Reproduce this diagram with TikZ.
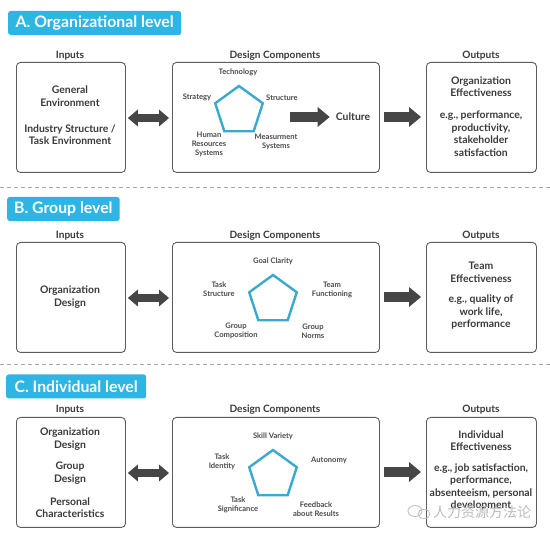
\documentclass[tikz,border=0pt]{standalone}
\usepackage{fontspec}
\setmainfont{Lato}
\newfontfamily\cjk{Noto Sans CJK SC}
\usetikzlibrary{arrows.meta,calc}
\definecolor{cy}{HTML}{2DB5E4}
\definecolor{pc}{HTML}{3AA9D0}
\definecolor{tx}{HTML}{3A3A3A}
\definecolor{lt}{HTML}{4A4A4A}
\definecolor{bd}{HTML}{5C5C5C}
\definecolor{ar}{HTML}{464646}
\definecolor{dl}{HTML}{AAAAAA}
\definecolor{wm}{HTML}{BBBBBB}
\begin{document}
\begin{tikzpicture}[x=1pt,y=-1pt,
  panel/.style={draw=bd, line width=0.9pt, rounded corners=4pt, anchor=north west, inner sep=0pt},
  ttl/.style={fill=cy, rounded corners=2.5pt, text=white, font=\fontsize{15.8}{18}\selectfont\bfseries, anchor=west, minimum height=24pt, inner xsep=7pt},
  hd/.style={text=tx, font=\fontsize{10.1}{11}\selectfont\bfseries, inner sep=0pt},
  btx/.style={text=tx, font=\fontsize{10.4}{12.5}\selectfont\bfseries, align=center, inner sep=0pt},
  plab/.style={text=lt, font=\fontsize{7.6}{9}\selectfont\bfseries, align=center, inner sep=0pt},
  pent/.style={draw=pc, line width=2.4pt, line join=miter},
  dbl/.style={draw=ar, line width=8pt, {Triangle[length=10pt,width=17pt,line width=0pt]}-{Triangle[length=10pt,width=17pt,line width=0pt]}},
  sgl/.style={draw=ar, line width=10pt, -{Triangle[length=12pt,width=20pt,line width=0pt]}},
  sep/.style={draw=dl, line width=0.8pt, dash pattern=on 4pt off 3pt}
]
\useasboundingbox (0,0) rectangle (550,534);
\fill[white] (0,0) rectangle (550,534);

% ---------------- A ----------------
\node[ttl, minimum width=173pt] (ta) at (8,23) {A. Organizational level};
\node[hd] (ah1) at (70,56) {Inputs};
\node[hd] (ah2) at (275,56) {Design Components};
\node[hd] (ah3) at (481,56) {Outputs};
\node[panel, minimum width=109pt, minimum height=110pt] (ai) at (16,62) {};
\node[panel, minimum width=207pt, minimum height=110pt] (ad) at (172,62) {};
\node[panel, minimum width=110pt, minimum height=110pt] (ao) at (426,62) {};
\node[btx] (ai1) at (70,96) {General\\Environment};
\node[btx] (ai2) at (70,134.5) {Industry Structure /\\Task Environment};
\node[btx] (ao1) at (481,86.5) {Organization\\Effectiveness};
\node[btx] (ao2) at (481,133.5) {e.g., performance,\\productivity,\\stakeholder\\satisfaction};
\coordinate (pa) at (239,111);
\draw[pent] ($(pa)+(90:25pt)$) -- ($(pa)+(162:25pt)$) -- ($(pa)+(234:25pt)$) -- ($(pa)+(306:25pt)$) -- ($(pa)+(18:25pt)$) -- cycle;
\node[plab] (pa1) at (238,72) {Technology};
\node[plab] (pa2) at (197,97.5) {Strategy};
\node[plab] (pa3) at (282,97.5) {Structure};
\node[plab] (pa4) at (209,144) {Human\\Resources\\Systems};
\node[plab] (pa5) at (276,141.5) {Measurment\\Systems};
\node[btx, inner xsep=6pt] (cul) at (353,117) {Culture};
\coordinate (cs) at (290,117);
\draw[sgl] (cs) -- (cul.west);
\draw[dbl, shorten <=2pt, shorten >=3pt] (ai.east |- 0,118) -- (ad.west |- 0,118);
\draw[sgl, shorten <=4pt, shorten >=5pt] (ad.east |- 0,117) -- (ao.west |- 0,117);

\draw[sep] (0,187) -- (550,187);

% ---------------- B ----------------
\node[ttl, minimum width=112pt] (tb) at (7,209) {B. Group level};
\node[hd] (bh1) at (70,236) {Inputs};
\node[hd] (bh2) at (275,236) {Design Components};
\node[hd] (bh3) at (481,236) {Outputs};
\node[panel, minimum width=109pt, minimum height=110pt] (bi) at (16,242) {};
\node[panel, minimum width=207pt, minimum height=110pt] (bd) at (172,242) {};
\node[panel, minimum width=110pt, minimum height=110pt] (bo) at (426,242) {};
\node[btx] (bi1) at (70,297) {Organization\\Design};
\node[btx] (bo1) at (481,272.5) {Team\\Effectiveness};
\node[btx] (bo2) at (481,312.5) {e.g., quality of\\work life,\\performance};
\coordinate (pb) at (273,300);
\draw[pent] ($(pb)+(90:25pt)$) -- ($(pb)+(162:25pt)$) -- ($(pb)+(234:25pt)$) -- ($(pb)+(306:25pt)$) -- ($(pb)+(18:25pt)$) -- cycle;
\node[plab] (pb1) at (273,261.5) {Goal Clarity};
\node[plab] (pb2) at (219,289) {Task\\Structure};
\node[plab] (pb3) at (332,290) {Team\\Functioning};
\node[plab] (pb4) at (236,330.5) {Group\\Composition};
\node[plab] (pb5) at (313,331.5) {Group\\Norms};
\draw[dbl, shorten <=2pt, shorten >=3pt] (bi.east |- 0,298) -- (bd.west |- 0,298);
\draw[sgl, shorten <=4pt, shorten >=5pt] (bd.east |- 0,297) -- (bo.west |- 0,297);

\draw[sep] (0,364) -- (550,364);

% ---------------- C ----------------
\node[ttl, minimum width=140pt] (tc) at (6,386.5) {C. Individual level};
\node[hd] (ch1) at (70,410) {Inputs};
\node[hd] (ch2) at (275,410) {Design Components};
\node[hd] (ch3) at (481,410) {Outputs};
\node[panel, minimum width=109pt, minimum height=110pt] (ci) at (16,417) {};
\node[panel, minimum width=207pt, minimum height=110pt] (cd) at (172,417) {};
\node[panel, minimum width=110pt, minimum height=110pt] (co) at (426,417) {};
\node[btx] (ci1) at (70,439) {Organization\\Design};
\node[btx] (ci2) at (70,473) {Group\\Design};
\node[btx] (ci3) at (70,507.5) {Personal\\Characteristics};
\node[btx] (co1) at (481,440.5) {Individual\\Effectiveness};
\node[btx] (co2) at (481,487) {e.g., job satisfaction,\\performance,\\absenteeism, personal\\development};
\coordinate (pcn) at (273,475);
\draw[pent] ($(pcn)+(90:25pt)$) -- ($(pcn)+(162:25pt)$) -- ($(pcn)+(234:25pt)$) -- ($(pcn)+(306:25pt)$) -- ($(pcn)+(18:25pt)$) -- cycle;
\node[plab] (pc1) at (273,436) {Skill Variety};
\node[plab] (pc2) at (222,462) {Task\\Identity};
\node[plab] (pc3) at (329,460) {Autonomy};
\node[plab] (pc4) at (238,504.5) {Task\\Significance};
\node[plab] (pc5) at (316,509) {Feedback\\about Results};
\draw[dbl, shorten <=2pt, shorten >=3pt] (ci.east |- 0,473) -- (cd.west |- 0,473);
\draw[sgl, shorten <=4pt, shorten >=5pt] (cd.east |- 0,472) -- (co.west |- 0,472);

% watermark
\draw[wm, line width=0.8pt] (415,511) ellipse (7pt and 5.5pt);
\draw[wm, line width=0.8pt] (424,514) ellipse (6pt and 4.5pt);
\node[text=wm, font=\cjk\fontsize{14}{16}\selectfont, anchor=west, inner sep=0pt] (wmt) at (433,512) {人力资源方法论};
\end{tikzpicture}
\end{document}
